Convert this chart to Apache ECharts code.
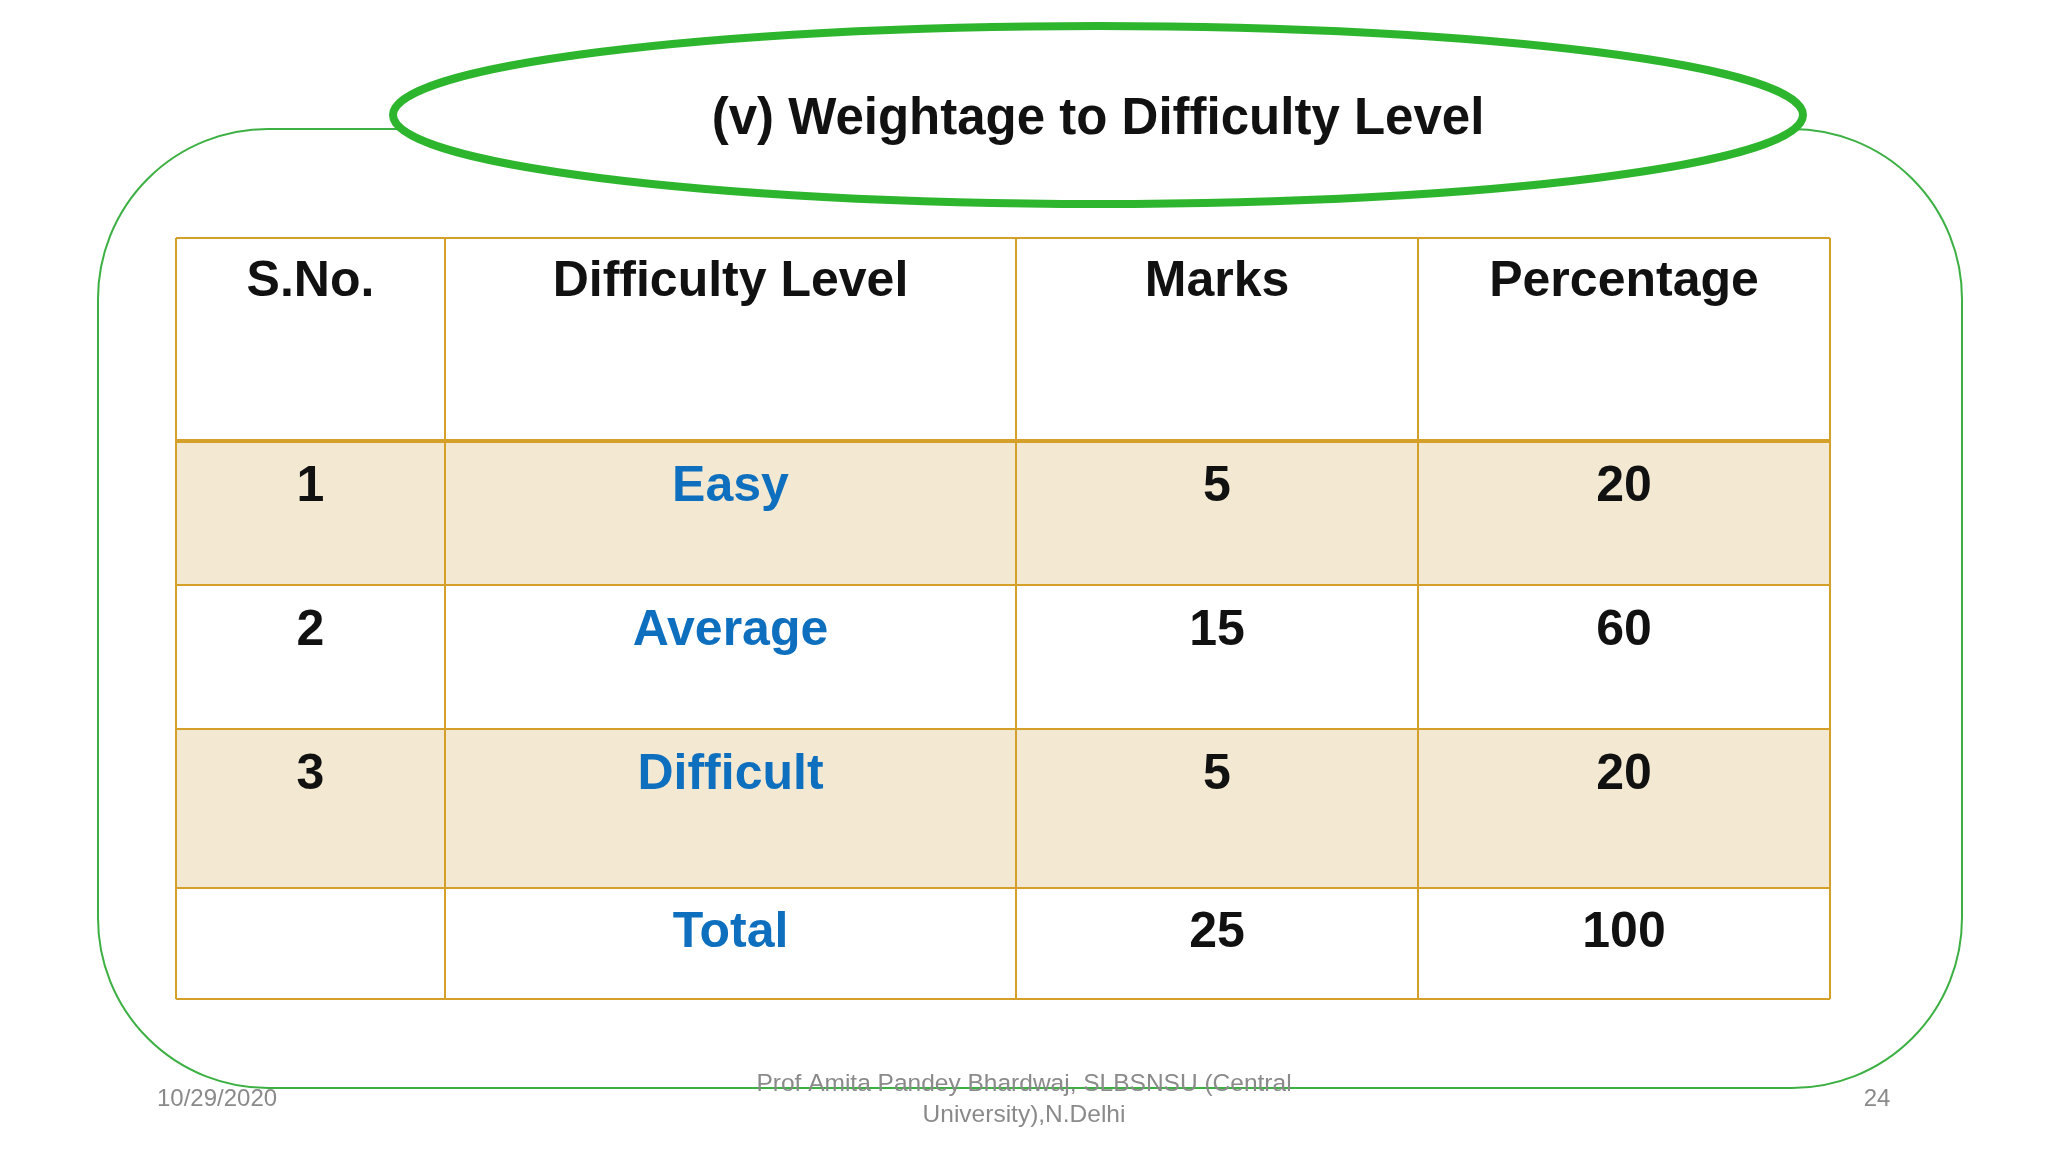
<!DOCTYPE html>
<html><head><meta charset="utf-8">
<script src="https://cdn.jsdelivr.net/npm/echarts@6/dist/echarts.min.js"></script>
<style>html,body{margin:0;padding:0;background:#fff}#c{width:2048px;height:1152px}</style>
</head><body><div id="c"></div>
<script>
const title = "(v) Weightage to Difficulty Level";
const headers = ["S.No.", "Difficulty Level", "Marks", "Percentage"];
const sno = ["1", "2", "3", ""];
const levels = ["Easy", "Average", "Difficult", "Total"];
const marks = [5, 15, 5, 25];
const percentage = [20, 60, 20, 100];
const footerDate = "10/29/2020";
const footerText = ["Prof Amita Pandey Bhardwaj, SLBSNSU (Central", "University),N.Delhi"];
const pageNo = "24";

const colX = [176, 445, 1016, 1418, 1830];
const rowY = [238, 441, 585, 729, 888, 999];
const textOff = [44, 46, 46, 46, 45];
const border = '#d4a02a';
const F = 'Liberation Sans, Arial, sans-serif';
const els = [];
els.push({type:'rect', shape:{x:98,y:129,width:1864,height:959,r:170}, style:{fill:'none',stroke:'#3cb043',lineWidth:2}});
for (let r = 0; r < 5; r++) {
  const fill = (r === 1 || r === 3) ? '#f3e9d2' : '#ffffff';
  els.push({type:'rect', shape:{x:colX[0],y:rowY[r],width:colX[4]-colX[0],height:rowY[r+1]-rowY[r]}, style:{fill}});
}
for (let i = 0; i < colX.length; i++) els.push({type:'line', shape:{x1:colX[i],y1:rowY[0],x2:colX[i],y2:rowY[5]}, style:{stroke:border,lineWidth:2}});
for (let j = 0; j < rowY.length; j++) els.push({type:'line', shape:{x1:colX[0],y1:rowY[j],x2:colX[4],y2:rowY[j]}, style:{stroke:border,lineWidth:j===1?4:2}});
function cell(c, r, text, color) {
  els.push({type:'text', style:{text:String(text), x:(colX[c]+colX[c+1])/2, y:rowY[r]+textOff[r], align:'center', verticalAlign:'middle', font:'bold 50px '+F, fill:color}});
}
headers.forEach((h,i)=>cell(i,0,h,'#111'));
for (let k = 0; k < 4; k++) {
  cell(0,k+1,sno[k],'#111'); cell(1,k+1,levels[k],'#0f6fbf'); cell(2,k+1,marks[k],'#111'); cell(3,k+1,percentage[k],'#111');
}
els.push({type:'ellipse', shape:{cx:1098,cy:115,rx:705,ry:89}, style:{fill:'#ffffff',stroke:'#2db52d',lineWidth:8}});
els.push({type:'text', style:{text:title, x:1098, y:120, align:'center', verticalAlign:'middle', font:'bold 51px '+F, fill:'#111'}});
els.push({type:'text', style:{text:footerDate, x:157, y:1099, verticalAlign:'middle', font:'24px '+F, fill:'#8a8a8a'}});
els.push({type:'text', style:{text:footerText[0], x:1024, y:1084, align:'center', verticalAlign:'middle', font:'24.5px '+F, fill:'#8a8a8a'}});
els.push({type:'text', style:{text:footerText[1], x:1024, y:1115, align:'center', verticalAlign:'middle', font:'24.5px '+F, fill:'#8a8a8a'}});
els.push({type:'text', style:{text:pageNo, x:1877, y:1099, align:'center', verticalAlign:'middle', font:'24px '+F, fill:'#8a8a8a'}});
const chart = echarts.init(document.getElementById('c'));
chart.setOption({backgroundColor:'#fff', animation:false, graphic:{elements:els}});
</script></body></html>
